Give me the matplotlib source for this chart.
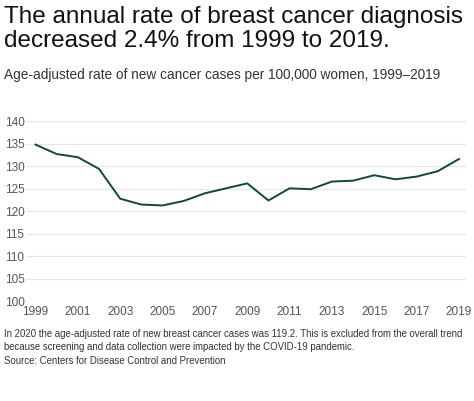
import matplotlib
matplotlib.use("Agg")
import matplotlib.pyplot as plt

years = list(range(1999, 2020))
rates = [134.8, 132.7, 132.0, 129.4, 122.8, 121.5, 121.3, 122.3, 124.0, 125.1, 126.2,
         122.4, 125.1, 124.9, 126.6, 126.8, 128.0, 127.1, 127.7, 128.9, 131.6]
yticks = [100, 105, 110, 115, 120, 125, 130, 135, 140]
xticks = list(range(1999, 2020, 2))

plt.rcParams['font.family'] = ['Liberation Sans', 'DejaVu Sans']
fig = plt.figure(figsize=(4.74, 4.01), dpi=100)
ax = fig.add_axes([0.057, 0.248, 0.927, 0.45])
ax.plot(years, rates, color='#0f4a33', lw=1.4)
ax.set_ylim(100, 140)
ax.set_xlim(1998.6, 2019.35)
ax.set_yticks(yticks)
ax.set_xticks(xticks)
ax.grid(axis='y', color='#e6e6e6', lw=0.8)
ax.set_axisbelow(True)
for s in ax.spines.values():
    s.set_visible(False)
ax.tick_params(length=0, labelsize=8.5, colors='#555555', pad=3)
for l in ax.get_yticklabels():
    l.set_horizontalalignment('left')
ax.tick_params(axis='y', pad=16)

fig.text(0.008, 0.985, "The annual rate of breast cancer diagnosis\ndecreased 2.4% from 1999 to 2019.",
         fontsize=17.5, va='top', ha='left', color='#111111', linespacing=1.1)
fig.text(0.008, 0.83, "Age-adjusted rate of new cancer cases per 100,000 women, 1999\u20132019",
         fontsize=9.8, va='top', ha='left', color='#333333')
fig.text(0.008, 0.18, "In 2020 the age-adjusted rate of new breast cancer cases was 119.2. This is excluded from the overall trend\n"
         "because screening and data collection were impacted by the COVID-19 pandemic.\n"
         "Source: Centers for Disease Control and Prevention",
         fontsize=6.9, va='top', ha='left', color='#333333', linespacing=1.45)
fig.savefig("out.png", dpi=100, facecolor='white')
